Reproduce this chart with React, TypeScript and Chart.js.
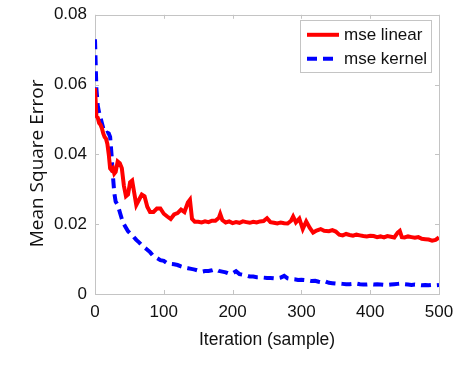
import React, { useEffect, useRef } from "react";
import { Chart, registerables } from "chart.js";

Chart.register(...registerables);

const linearIter = [
  0, 2, 4, 6, 8, 10, 12, 14, 16, 18,
  20, 22, 24, 26, 28, 30, 33, 36, 39, 42,
  45, 48, 51, 54, 57, 60, 64, 68, 72, 76,
  80, 85, 90, 95, 100, 105, 110, 115, 120, 125,
  130, 135, 138, 141, 145, 150, 155, 160, 165, 170,
  175, 180, 182, 185, 190, 195, 200, 205, 210, 215,
  220, 225, 230, 235, 240, 245, 250, 255, 260, 265,
  270, 275, 280, 285, 288, 292, 297, 302, 307, 312,
  317, 322, 328, 333, 340, 345, 350, 355, 360, 365,
  370, 375, 380, 385, 390, 395, 400, 405, 410, 415,
  420, 425, 430, 435, 440, 443, 446, 450, 455, 460,
  465, 470, 475, 480, 485, 490, 495, 500,
];
const linearMse = [
  0.059, 0.051, 0.0505, 0.049, 0.0485, 0.0475, 0.046, 0.045, 0.0445, 0.043,
  0.04, 0.036, 0.0355, 0.036, 0.0345, 0.035, 0.038, 0.0375, 0.036, 0.031,
  0.028, 0.0285, 0.032, 0.0325, 0.029, 0.0255, 0.027, 0.0285, 0.028, 0.025,
  0.0235, 0.0235, 0.0245, 0.0245, 0.023, 0.0222, 0.0215, 0.0228, 0.0232, 0.0242,
  0.0235, 0.0262, 0.027, 0.0215, 0.0207, 0.0207, 0.0205, 0.0208, 0.0206, 0.021,
  0.021, 0.0218, 0.0229, 0.0212, 0.0205, 0.0208, 0.0203, 0.0206, 0.0204, 0.0208,
  0.0206, 0.0204, 0.0207, 0.0205, 0.0208, 0.0209, 0.0217, 0.0206, 0.0204, 0.0202,
  0.0205, 0.0203, 0.0202, 0.021, 0.0222, 0.0205, 0.0216, 0.0186, 0.0208, 0.019,
  0.0176, 0.0182, 0.0186, 0.0181, 0.018, 0.0183, 0.0179, 0.017, 0.0168, 0.0172,
  0.0169, 0.0167, 0.017, 0.0168, 0.0166, 0.0165, 0.0167, 0.0166, 0.0163, 0.0165,
  0.0162, 0.0166, 0.0164, 0.0162, 0.0176, 0.0181, 0.0163, 0.0162, 0.0165, 0.0163,
  0.0161, 0.0163, 0.0158, 0.0157, 0.0156, 0.0153, 0.0155, 0.0162,
];

const kernelIter = [
  0, 2, 4, 6, 8, 10, 12, 14, 16, 18,
  20, 22, 24, 26, 28, 30, 33, 36, 39, 42,
  45, 48, 51, 54, 57, 60, 64, 68, 72, 76,
  80, 85, 90, 95, 100, 105, 110, 115, 120, 125,
  130, 135, 140, 145, 150, 155, 160, 165, 170, 175,
  180, 185, 190, 195, 200, 205, 210, 215, 220, 225,
  230, 235, 240, 245, 250, 255, 260, 265, 270, 275,
  280, 285, 290, 295, 300, 305, 310, 315, 320, 325,
  330, 335, 340, 345, 350, 355, 360, 365, 370, 375,
  380, 385, 390, 395, 400, 405, 410, 415, 420, 425,
  430, 435, 440, 445, 450, 455, 460, 465, 470, 475,
  480, 485, 490, 495, 500,
];
const kernelMse = [
  0.073, 0.059, 0.054, 0.052, 0.0505, 0.049, 0.0475, 0.0465, 0.046, 0.0462,
  0.046, 0.045, 0.04, 0.034, 0.029, 0.0265, 0.0255, 0.0235, 0.0215, 0.02,
  0.019, 0.018, 0.0174, 0.017, 0.0162, 0.0155, 0.0148, 0.014, 0.0133, 0.0127,
  0.012, 0.0108, 0.0103, 0.0097, 0.0095, 0.0088, 0.0086, 0.0085, 0.0083, 0.0079,
  0.0076, 0.0074, 0.0072, 0.007, 0.0067, 0.0064, 0.0066, 0.0066, 0.0068, 0.0071,
  0.0066, 0.0064, 0.0062, 0.0058, 0.0059, 0.0065, 0.0057, 0.0055, 0.0053, 0.005,
  0.005, 0.0048, 0.0048, 0.0047, 0.0046, 0.0046, 0.0045, 0.0045, 0.0047, 0.0052,
  0.0045, 0.0043, 0.0042, 0.004, 0.0041, 0.004, 0.0039, 0.0037, 0.0038, 0.0035,
  0.0033, 0.0036, 0.0032, 0.0031, 0.003, 0.003, 0.0029, 0.0028, 0.0028, 0.0029,
  0.003, 0.0028, 0.0027, 0.0027, 0.0028, 0.0027, 0.0028, 0.0027, 0.0026, 0.0026,
  0.0027, 0.0028, 0.0029, 0.003, 0.0028, 0.0027, 0.0026, 0.0027, 0.0026, 0.0025,
  0.0026, 0.0025, 0.0026, 0.0025, 0.0026,
];

const seriesLabels = ["mse linear", "mse kernel"];
const xTickValues = [0, 100, 200, 300, 400, 500];
const yTickValues = [0, 0.02, 0.04, 0.06, 0.08];
const xTitle = "Iteration (sample)";
const yTitle = "Mean Square Error";

const FONT = "'Liberation Sans', Arial, Helvetica, sans-serif";
const YTITLE_FONT = "'Open Sans', 'Noto Sans', sans-serif";
const BOX_COLOR = "#c4c4c4";

const boxPlugin = {
  id: "matlabBox",
  beforeDatasetsDraw(chart: any) {
    const { ctx, chartArea } = chart;
    const xs = chart.scales.x;
    const ys = chart.scales.y;
    ctx.save();
    ctx.strokeStyle = BOX_COLOR;
    ctx.lineWidth = 1;
    ctx.strokeRect(
      Math.round(chartArea.left) + 0.5,
      Math.round(chartArea.top) + 0.5,
      Math.round(chartArea.right - chartArea.left),
      Math.round(chartArea.bottom - chartArea.top)
    );
    const tl = 4;
    ctx.beginPath();
    xTickValues.forEach((v) => {
      const px = Math.round(xs.getPixelForValue(v)) + 0.5;
      ctx.moveTo(px, chartArea.bottom);
      ctx.lineTo(px, chartArea.bottom - tl);
      ctx.moveTo(px, chartArea.top);
      ctx.lineTo(px, chartArea.top + tl);
    });
    yTickValues.forEach((v) => {
      const py = Math.round(ys.getPixelForValue(v)) + 0.5;
      ctx.moveTo(chartArea.left, py);
      ctx.lineTo(chartArea.left + tl, py);
      ctx.moveTo(chartArea.right, py);
      ctx.lineTo(chartArea.right - tl, py);
    });
    ctx.stroke();
    ctx.restore();
  },
};

const yTitlePlugin = {
  id: "yTitle",
  afterDraw(chart: any) {
    const { ctx, chartArea } = chart;
    const cy = (chartArea.top + chartArea.bottom) / 2 + 9;
    ctx.save();
    ctx.translate(43, cy);
    ctx.rotate(-Math.PI / 2);
    ctx.fillStyle = "#111";
    ctx.font = `19px ${YTITLE_FONT}`;
    ctx.textAlign = "center";
    ctx.textBaseline = "alphabetic";
    ctx.fillText(yTitle, 0, 0);
    ctx.restore();
  },
};

const legendPlugin = {
  id: "matlabLegend",
  afterDraw(chart: any) {
    const { ctx, chartArea } = chart;
    const w = 131;
    const h = 52;
    const x0 = chartArea.right - 8 - w;
    const y0 = chartArea.top + 5;
    ctx.save();
    ctx.fillStyle = "#ffffff";
    ctx.fillRect(x0, y0, w, h);
    ctx.strokeStyle = BOX_COLOR;
    ctx.lineWidth = 1;
    ctx.strokeRect(Math.round(x0) + 0.5, Math.round(y0) + 0.5, w, h);
    chart.data.datasets.forEach((ds: any, i: number) => {
      const cy = y0 + 15 + i * 24;
      ctx.strokeStyle = ds.borderColor;
      ctx.lineWidth = ds.borderWidth;
      ctx.setLineDash(ds.borderDash || []);
      ctx.beginPath();
      ctx.moveTo(x0 + 7, cy);
      ctx.lineTo(x0 + 39, cy);
      ctx.stroke();
      ctx.setLineDash([]);
      ctx.fillStyle = "#111";
      ctx.font = `17px ${FONT}`;
      ctx.textBaseline = "middle";
      ctx.textAlign = "left";
      ctx.fillText(ds.label, x0 + 44, cy + 1);
    });
    ctx.restore();
  },
};

export default function App() {
  const ref = useRef<HTMLCanvasElement | null>(null);

  useEffect(() => {
    if (!ref.current) return;
    const chart = new Chart(ref.current, {
      type: "line",
      data: {
        datasets: [
          {
            label: seriesLabels[0],
            data: linearIter.map((x, i) => ({ x, y: linearMse[i] })),
            borderColor: "#ff0000",
            borderWidth: 4,
            pointRadius: 0,
            tension: 0,
            fill: false,
          },
          {
            label: seriesLabels[1],
            data: kernelIter.map((x, i) => ({ x, y: kernelMse[i] })),
            borderColor: "#0000ff",
            borderWidth: 4,
            borderDash: [10, 6],
            pointRadius: 0,
            tension: 0,
            fill: false,
          },
        ],
      },
      options: {
        animation: false,
        responsive: false,
        devicePixelRatio: 1,
        layout: { padding: { top: 7, right: 35, left: 0, bottom: 0 } },
        plugins: {
          legend: { display: false },
          tooltip: { enabled: false },
        },
        scales: {
          x: {
            type: "linear",
            min: 0,
            max: 500,
            afterBuildTicks: (scale: any) => {
              scale.ticks = xTickValues.map((v) => ({ value: v }));
            },
            afterFit: (scale: any) => {
              scale.height = 85;
            },
            grid: { display: false, drawTicks: false },
            border: { display: false },
            ticks: {
              padding: 8,
              color: "#111",
              font: { family: FONT, size: 17 },
              maxRotation: 0,
              callback: (v: any) => String(v),
            },
            title: {
              display: true,
              text: xTitle,
              color: "#111",
              font: { family: FONT, size: 17.5 },
              padding: { top: 0, bottom: 28 },
            },
          },
          y: {
            type: "linear",
            min: 0,
            max: 0.08,
            afterBuildTicks: (scale: any) => {
              scale.ticks = yTickValues.map((v) => ({ value: v }));
            },
            afterFit: (scale: any) => {
              scale.width = 95;
            },
            grid: { display: false, drawTicks: false },
            border: { display: false },
            ticks: {
              padding: 8,
              color: "#111",
              font: { family: FONT, size: 17, lineHeight: 0.8 },
              callback: (v: any) => (Number(v) === 0 ? "0" : Number(v).toFixed(2)),
            },
            title: { display: false },
          },
        },
      },
      plugins: [boxPlugin, yTitlePlugin, legendPlugin],
    } as any);
    return () => chart.destroy();
  }, []);

  return (
    <div style={{ position: "absolute", left: 0, top: 0, width: 474, height: 379, background: "#fff" }}>
      <canvas ref={ref} width={474} height={379} style={{ display: "block" }} />
    </div>
  );
}
